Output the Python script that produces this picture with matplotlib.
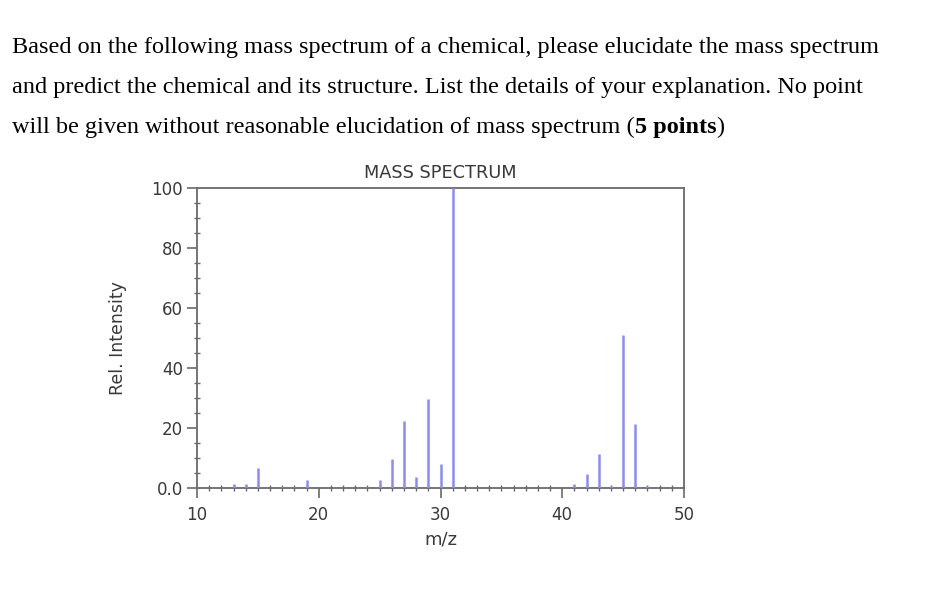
import numpy as np
import matplotlib
matplotlib.use("Agg")
import matplotlib.pyplot as plt
from matplotlib.ticker import MultipleLocator, FixedLocator, FixedFormatter

# ------------- data -------------
mz = [13, 14, 15, 17, 18, 19, 24, 25, 26, 27, 28, 29, 30, 31,
      41, 42, 43, 44, 45, 46, 47]
intensity = [1.2, 1.4, 6.7, 0.5, 0.5, 2.8, 0.3, 2.6, 9.8, 22.2, 3.7, 29.6, 8.1, 100.0,
             1.4, 4.6, 11.2, 0.8, 51.0, 21.2, 0.8]

y_ticks = [0, 20, 40, 60, 80, 100]
y_labels = ["0.0", "20", "40", "60", "80", "100"]
x_ticks = [10, 20, 30, 40, 50]
x_labels = ["10", "20", "30", "40", "50"]

question = [
    "Based on the following mass spectrum of a chemical, please elucidate the mass spectrum",
    "and predict the chemical and its structure. List the details of your explanation. No point",
    "will be given without reasonable elucidation of mass spectrum (",
]
bold_part = "5 points"
tail = ")"

W, H = 946, 614
dpi = 100
fig = plt.figure(figsize=(W / dpi, H / dpi), dpi=dpi)

# ---------- question text ----------
serif = ["Liberation Serif", "DejaVu Serif"]
fs_q = 17.5
baselines = [53, 93, 133]
x0 = 12 / W
for line, yb in zip(question, baselines):
    fig.text(x0, 1 - yb / H, line, family=serif, fontsize=fs_q,
             va="baseline", ha="left", color="black")

fig.canvas.draw()
r = fig.canvas.get_renderer()
last = fig.texts[-1]
bb = last.get_window_extent(renderer=r)
t_bold = fig.text(bb.x1 / W, 1 - baselines[-1] / H, bold_part, family=serif,
                  fontsize=fs_q, fontweight="bold", va="baseline", ha="left")
bb2 = t_bold.get_window_extent(renderer=r)
fig.text(bb2.x1 / W, 1 - baselines[-1] / H, tail, family=serif, fontsize=fs_q,
         va="baseline", ha="left")

# ---------- spectrum ----------
ax = fig.add_axes([197 / W, 1 - 488 / H, (684 - 197) / W, (488 - 188) / H])
ax.vlines(mz, 0, intensity, colors="#8a8aff", linewidth=1.8, zorder=3)

ax.set_xlim(10, 50)
ax.set_ylim(0, 100)

spine_col = "#6a6a6a"
for s in ax.spines.values():
    s.set_color(spine_col)
    s.set_linewidth(1.3)

ax.xaxis.set_major_locator(FixedLocator(x_ticks))
ax.xaxis.set_major_formatter(FixedFormatter(x_labels))
ax.xaxis.set_minor_locator(MultipleLocator(1))
ax.yaxis.set_major_locator(FixedLocator(y_ticks))
ax.yaxis.set_major_formatter(FixedFormatter(y_labels))
ax.yaxis.set_minor_locator(MultipleLocator(5))

ax.tick_params(axis="both", which="major", direction="out", length=7,
               width=1.2, color=spine_col, labelsize=12, labelcolor="#3a3a3a")
ax.tick_params(axis="both", which="minor", direction="inout", length=5,
               width=1.0, color=spine_col)
ax.tick_params(axis="x", which="major", pad=6)
ax.tick_params(axis="y", which="major", pad=3)

lab_col = "#3a3a3a"
ax.text(0.5, 1.05, "MASS SPECTRUM", transform=ax.transAxes, ha="center",
        va="center", fontsize=12.8, color=lab_col)
ax.set_xlabel("m/z", fontsize=13, color=lab_col)
ax.xaxis.set_label_coords(0.5, -0.14)
ax.set_ylabel("Rel. Intensity", fontsize=12.5, color=lab_col)
ax.yaxis.set_label_coords(-0.143, 0.5)

fig.savefig("out.png", dpi=dpi)
